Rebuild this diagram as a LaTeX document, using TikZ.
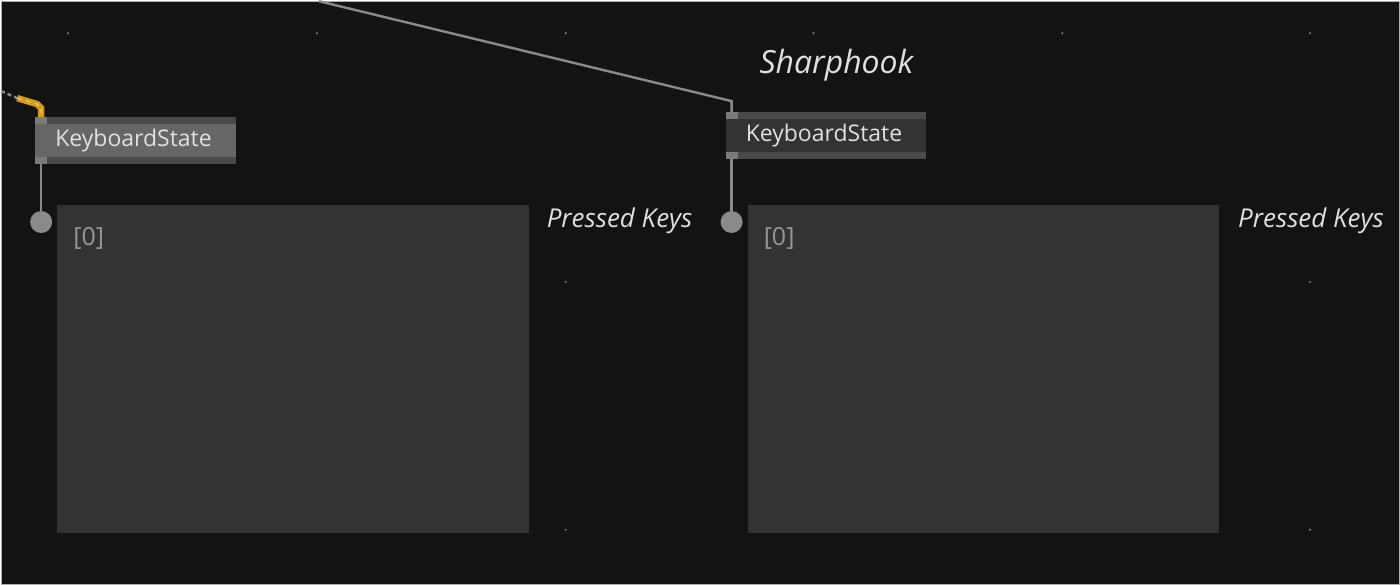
\documentclass[tikz,border=0pt]{standalone}
\usepackage{fontspec}
\setmainfont{Open Sans}
\definecolor{bg}{HTML}{131313}
\definecolor{panel}{HTML}{333333}
\definecolor{bar}{HTML}{4A4A4A}
\definecolor{body}{HTML}{666666}
\definecolor{pinc}{HTML}{7A7A7A}
\definecolor{wire}{HTML}{8A8A8A}
\definecolor{txt}{HTML}{E0E0E0}
\definecolor{orng}{HTML}{D49A1A}
\begin{document}
\begin{tikzpicture}[x=1pt,y=-1pt,
  wirel/.style={draw=wire,line width=2.4pt},
  lbl/.style={text=txt,font=\itshape\fontsize{26}{30}\selectfont,inner sep=0pt},
  nlbl/.style={text=txt,font=\fontsize{23}{27}\selectfont,anchor=west,inner sep=0pt},
  vlbl/.style={text=wire!90,font=\fontsize{25}{29}\selectfont,anchor=west,inner sep=0pt},
  dot/.style={fill=pinc,draw=none}]
\fill[bg] (0,0) rectangle (1400,584);
\draw[pinc!60,line width=1pt] (0.5,0.5) rectangle (1399.5,583.5);
\foreach \x in {67,316,565,813,1062,1310} \fill[dot] (\x,32) circle (1.2);
\foreach \x in {565,1310} {\fill[dot] (\x,281) circle (1.2); \fill[dot] (\x,529) circle (1.2);}
% left node
\fill[bar] (34,116) rectangle (235,163);
\fill[body] (34,123) rectangle (235,156);
\fill[pinc] (34,116) rectangle (46,123);
\fill[pinc] (34,156) rectangle (46,163);
\node[nlbl] (k1) at (54,139) {KeyboardState};
\coordinate (k1in) at (40,116);
\coordinate (k1out) at (40,163);
% right node
\fill[bar] (725,111) rectangle (926,158);
\fill[panel] (725,118) rectangle (926,151);
\fill[pinc] (725,111) rectangle (737,118);
\fill[pinc] (725,151) rectangle (737,158);
\node[nlbl] (k2) at (745,134) {KeyboardState};
\coordinate (k2in) at (731,111);
\coordinate (k2out) at (731,158);
% panels
\fill[panel] (56,204) rectangle (528,532);
\fill[panel] (747,204) rectangle (1219,532);
\node[vlbl] (v1) at (72,237) {[0]};
\node[vlbl] (v2) at (763,237) {[0]};
\node[circle,fill=wire,minimum size=22pt,inner sep=0pt] (c1) at (40,221) {};
\node[circle,fill=wire,minimum size=22pt,inner sep=0pt] (c2) at (731,221) {};
\draw[wirel] (k1out) -- (c1);
\draw[wirel] (k2out) -- (c2);
\node[lbl,anchor=east] (p1) at (692,220) {Pressed Keys};
\node[lbl,anchor=east] (p2) at (1384,220) {Pressed Keys};
\node[lbl,font=\itshape\fontsize{32}{36}\selectfont] (sh) at (836,64) {Sharphook};
% wires
\coordinate (top) at (318,0);
\draw[wirel] (top) -- (731,100) -- (k2in);
\coordinate (lft) at (0,90);
\draw[wire,line width=2.4pt,dash pattern=on 4pt off 3pt] (lft) -- (16,97);
\draw[orng,line width=6.5pt,line join=miter] (16,97) -- (36,103) -- (40,107) -- (k1in);
\draw[orng!60!white,line width=1.4pt,dash pattern=on 5pt off 4pt] (16,97) -- (36,103) -- (40,107) -- (k1in);
\end{tikzpicture}
\end{document}
